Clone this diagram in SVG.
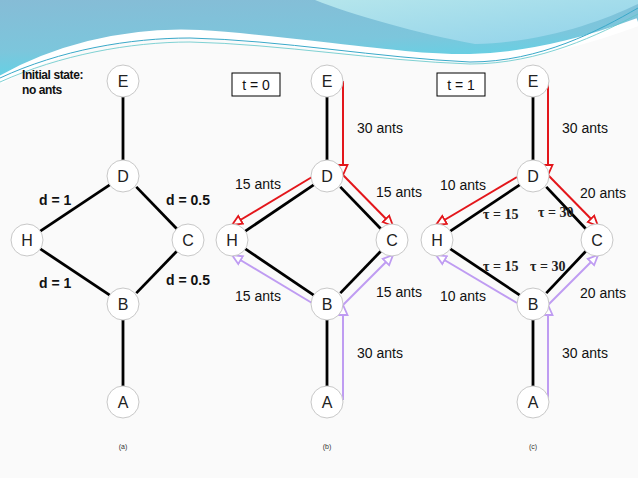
<svg xmlns="http://www.w3.org/2000/svg" width="638" height="478" viewBox="0 0 638 478">
<defs>
<linearGradient id="gBlue" x1="0" y1="0" x2="0.3" y2="1">
<stop offset="0" stop-color="#86bcd6"/>
<stop offset="0.6" stop-color="#7cc6dc"/>
<stop offset="1" stop-color="#5ad6e8"/>
</linearGradient>
<linearGradient id="gCyan" x1="0" y1="0" x2="1" y2="1">
<stop offset="0" stop-color="#b6e6ec"/>
<stop offset="1" stop-color="#90d2ea"/>
</linearGradient>
<marker id="mr" viewBox="0 0 12 12" refX="11" refY="6" markerWidth="12" markerHeight="12" orient="auto" markerUnits="userSpaceOnUse">
<path d="M1,1.5 L11,6 L1,10.5 Z" fill="#fff" stroke="#e3161b" stroke-width="1.8"/>
</marker>
<marker id="mp" viewBox="0 0 12 12" refX="11" refY="6" markerWidth="12" markerHeight="12" orient="auto" markerUnits="userSpaceOnUse">
<path d="M1,1.5 L11,6 L1,10.5 Z" fill="#fff" stroke="#bf9cf2" stroke-width="1.8"/>
</marker>
<style>
.nd{fill:#fff;stroke:#c8c8c8;stroke-width:1}
.nl{font-family:"Liberation Sans",Arial,sans-serif;font-size:16px;fill:#222;text-anchor:middle}
.ed{stroke:#000;stroke-width:2.8;fill:none}
.rd{stroke:#e3161b;stroke-width:2;fill:none;marker-end:url(#mr)}
.pp{stroke:#bf9cf2;stroke-width:2;fill:none;marker-end:url(#mp)}
.lb{font-family:"Liberation Sans",Arial,sans-serif;font-size:14px;fill:#111}
.bd{font-family:"Liberation Sans",Arial,sans-serif;font-size:14px;font-weight:bold;fill:#111}
.ttl{font-family:"Liberation Sans",Arial,sans-serif;font-size:12px;font-weight:bold;fill:#111;letter-spacing:-0.4px}
.tau{font-family:"Liberation Serif","Times New Roman",serif;font-size:14px;font-weight:bold;fill:#222}
.cap{font-family:"Liberation Sans",Arial,sans-serif;font-size:7px;fill:#333;text-anchor:middle}
</style>
</defs>
<rect width="638" height="478" fill="#fafafa"/>
<g id="header">
<path d="M0,0 H638 V22 C600,36 540,56 470,58 C400,59 300,40 200,34 C120,30 50,52 0,80 Z" fill="url(#gBlue)"/>
<path d="M0,80 C50,52 120,30 200,34 C300,40 400,59 470,58 C540,56 600,36 638,22" fill="none" stroke="#fff" stroke-width="8"/>
<path d="M292,0 H638 V4 C600,22 545,42 475,44 C420,34 350,14 315,0 Z" fill="url(#gCyan)"/>
<path d="M0,78 C60,50 130,38 190,38 C280,40 380,58 470,62 C540,62 600,30 638,8" fill="none" stroke="#3aa9c9" stroke-width="1"/>
<path d="M0,82 C60,55 130,42 190,42 C280,44 380,61 470,64 C540,64 600,34 638,14" fill="none" stroke="#5fc7c9" stroke-width="0.8"/>
</g>
<g id="connectors">
<line class="ed" x1="123" y1="97" x2="123" y2="160"/>
<line class="ed" x1="109.7" y1="184.9" x2="40.3" y2="231.1"/>
<line class="ed" x1="136.3" y1="186.9" x2="177" y2="229"/>
<line class="ed" x1="40.3" y1="248.9" x2="109.7" y2="295.1"/>
<line class="ed" x1="177" y1="251" x2="136.3" y2="293.1"/>
<line class="ed" x1="123" y1="320" x2="123" y2="386"/>

<line class="ed" x1="327" y1="97" x2="327" y2="160"/>
<line class="ed" x1="313.7" y1="184.9" x2="245.3" y2="231.1"/>
<line class="ed" x1="340.3" y1="186.9" x2="381" y2="229"/>
<line class="ed" x1="245.3" y1="248.9" x2="313.7" y2="295.1"/>
<line class="ed" x1="381" y1="251" x2="340.3" y2="293.1"/>
<line class="ed" x1="327" y1="320" x2="327" y2="386"/>
<line class="rd" x1="343" y1="81" x2="343" y2="175"/>
<line class="rd" x1="343" y1="175" x2="393" y2="226"/>
<line class="rd" x1="312" y1="177" x2="232" y2="225"/>
<line class="pp" x1="343" y1="400" x2="343" y2="305"/>
<line class="pp" x1="343" y1="305" x2="393" y2="255"/>
<line class="pp" x1="312" y1="303" x2="232" y2="255"/>

<line class="ed" x1="533" y1="97" x2="533" y2="160"/>
<line class="ed" x1="519.7" y1="184.9" x2="450.3" y2="231.1"/>
<line class="ed" x1="546.3" y1="186.9" x2="586" y2="229"/>
<line class="ed" x1="450.3" y1="248.9" x2="519.7" y2="295.1"/>
<line class="ed" x1="586" y1="251" x2="546.3" y2="293.1"/>
<line class="ed" x1="533" y1="320" x2="533" y2="386"/>
<line class="rd" x1="548" y1="81" x2="548" y2="175"/>
<line class="rd" x1="548" y1="175" x2="598" y2="226"/>
<line class="rd" x1="517" y1="177" x2="436" y2="225"/>
<line class="pp" x1="548" y1="400" x2="548" y2="305"/>
<line class="pp" x1="548" y1="305" x2="598" y2="255"/>
<line class="pp" x1="517" y1="303" x2="436" y2="255"/>
</g>
<g id="a-E"><circle class="nd" cx="123" cy="81" r="16"/><text class="nl" x="123" y="87">E</text></g>
<g id="a-D"><circle class="nd" cx="123" cy="176" r="16"/><text class="nl" x="123" y="182">D</text></g>
<g id="a-H"><circle class="nd" cx="27" cy="240" r="16"/><text class="nl" x="27" y="246">H</text></g>
<g id="a-C"><circle class="nd" cx="188" cy="240" r="16"/><text class="nl" x="188" y="246">C</text></g>
<g id="a-B"><circle class="nd" cx="123" cy="304" r="16"/><text class="nl" x="123" y="310">B</text></g>
<g id="a-A"><circle class="nd" cx="123" cy="402" r="16"/><text class="nl" x="123" y="408">A</text></g>

<g id="b-E"><circle class="nd" cx="327" cy="81" r="16"/><text class="nl" x="327" y="87">E</text></g>
<g id="b-D"><circle class="nd" cx="327" cy="176" r="16"/><text class="nl" x="327" y="182">D</text></g>
<g id="b-H"><circle class="nd" cx="232" cy="240" r="16"/><text class="nl" x="232" y="246">H</text></g>
<g id="b-C"><circle class="nd" cx="392" cy="240" r="16"/><text class="nl" x="392" y="246">C</text></g>
<g id="b-B"><circle class="nd" cx="327" cy="304" r="16"/><text class="nl" x="327" y="310">B</text></g>
<g id="b-A"><circle class="nd" cx="327" cy="402" r="16"/><text class="nl" x="327" y="408">A</text></g>

<g id="c-E"><circle class="nd" cx="533" cy="81" r="16"/><text class="nl" x="533" y="87">E</text></g>
<g id="c-D"><circle class="nd" cx="533" cy="176" r="16"/><text class="nl" x="533" y="182">D</text></g>
<g id="c-H"><circle class="nd" cx="437" cy="240" r="16"/><text class="nl" x="437" y="246">H</text></g>
<g id="c-C"><circle class="nd" cx="597" cy="240" r="16"/><text class="nl" x="597" y="246">C</text></g>
<g id="c-B"><circle class="nd" cx="533" cy="304" r="16"/><text class="nl" x="533" y="310">B</text></g>
<g id="c-A"><circle class="nd" cx="533" cy="402" r="16"/><text class="nl" x="533" y="408">A</text></g>

<g id="labels">
<text class="ttl" x="22" y="79">Initial state:</text>
<text class="ttl" x="22" y="94">no ants</text>
<text class="bd" x="39" y="205">d = 1</text>
<text class="bd" x="166" y="205">d = 0.5</text>
<text class="bd" x="39" y="288">d = 1</text>
<text class="bd" x="166" y="285">d = 0.5</text>

<g id="t0"><rect x="232" y="73" width="48" height="23" fill="#fff" stroke="#000" stroke-width="1"/><text class="lb" x="256" y="90" text-anchor="middle">t = 0</text></g>
<text class="lb" x="357" y="133">30 ants</text>
<text class="lb" x="235" y="189">15 ants</text>
<text class="lb" x="376" y="197">15 ants</text>
<text class="lb" x="235" y="301">15 ants</text>
<text class="lb" x="376" y="297">15 ants</text>
<text class="lb" x="357" y="358">30 ants</text>

<g id="t1"><rect x="437" y="73" width="48" height="23" fill="#fff" stroke="#000" stroke-width="1"/><text class="lb" x="461" y="90" text-anchor="middle">t = 1</text></g>
<text class="lb" x="562" y="133">30 ants</text>
<text class="lb" x="440" y="190">10 ants</text>
<text class="lb" x="580" y="198">20 ants</text>
<text class="tau" x="483" y="219">τ = 15</text>
<text class="tau" x="538" y="217">τ = 30</text>
<text class="tau" x="483" y="271">τ = 15</text>
<text class="tau" x="530" y="271">τ = 30</text>
<text class="lb" x="440" y="301">10 ants</text>
<text class="lb" x="580" y="298">20 ants</text>
<text class="lb" x="562" y="358">30 ants</text>

<text class="cap" x="123" y="449">(a)</text>
<text class="cap" x="327" y="449">(b)</text>
<text class="cap" x="533" y="449">(c)</text>
</g>
</svg>
